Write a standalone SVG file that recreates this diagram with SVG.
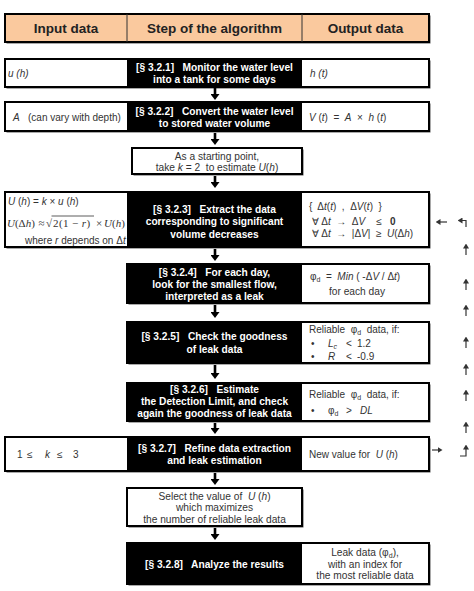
<svg xmlns="http://www.w3.org/2000/svg" width="474" height="591" viewBox="0 0 474 591">
<style>
text { white-space: pre; font-family: "Liberation Sans", Arial, sans-serif; }
.box { fill: #fff; stroke: #000; stroke-width: 2; }
.shd { fill: #555; }
.blk { fill: #000; }
.hdr { fill: #FAC99E; stroke: #000; stroke-width: 2; }
.hd { font-size: 13.5px; font-weight: bold; fill: #222; text-anchor: middle; }
.mt { font-size: 10.2px; font-weight: bold; fill: #fff; text-anchor: middle; }
.rt { font-size: 10px; fill: #333; }
.ct { font-size: 10.2px; fill: #333; text-anchor: middle; }
.it { font-style: italic; }
.mf { font-family: "Liberation Serif", "Times New Roman", serif; font-size: 11px; fill: #333; }
.main { stroke: #000; stroke-width: 2.6; fill: none; marker-end: url(#ad); }
.fb { stroke: #333; stroke-width: 1.2; fill: none; marker-end: url(#as); }
</style>
<defs>
<marker id="ad" viewBox="0 0 6 9" refX="1" refY="4.5" markerWidth="6" markerHeight="9" markerUnits="userSpaceOnUse" orient="auto"><path d="M0,0 L6,4.5 L0,9 Z" fill="#000"/></marker>
<marker id="as" viewBox="0 0 5 6" refX="0.5" refY="3" markerWidth="5" markerHeight="6" markerUnits="userSpaceOnUse" orient="auto"><path d="M0,0 L5,3 L0,6 Z" fill="#333"/></marker>
</defs>
<rect width="474" height="591" fill="#fff"/>

<g id="header">
<rect class="shd" x="6.5" y="15.5" width="424" height="28"/>
<rect class="hdr" x="5" y="14" width="424" height="28"/>
<line x1="127" y1="14" x2="127" y2="42" stroke="#333" stroke-width="1"/>
<line x1="302" y1="14" x2="302" y2="42" stroke="#333" stroke-width="1"/>
<text class="hd" x="66" y="33">Input data</text>
<text class="hd" x="214.5" y="33">Step of the algorithm</text>
<text class="hd" x="365.5" y="33">Output data</text>
</g>

<g id="step1">
<rect class="shd" x="6.5" y="60.5" width="424" height="28"/>
<rect class="box" x="5" y="59" width="424" height="28"/>
<rect class="blk" x="127" y="59" width="175" height="28"/>
<text class="rt it" x="8" y="76.5" font-size="9.5">u (h)</text>
<text class="mt" x="214.5" y="70.5">[§ 3.2.1]   Monitor the water level</text>
<text class="mt" x="214.5" y="82.5">into a tank for some days</text>
<text class="rt it" x="310" y="76.5" font-size="9.5">h (t)</text>
</g>

<g id="step2">
<rect class="shd" x="6.5" y="103.5" width="424" height="29"/>
<rect class="box" x="5" y="102" width="424" height="29"/>
<rect class="blk" x="127" y="102" width="175" height="29"/>
<text class="rt" x="13" y="121" font-size="9"><tspan class="it">A</tspan>   (can vary with depth)</text>
<text class="mt" x="214.5" y="114.5" font-size="10.5">[§ 3.2.2]   Convert the water level</text>
<text class="mt" x="214.5" y="127" font-size="10.5">to stored water volume</text>
<text class="rt" x="309" y="121"><tspan class="it">V</tspan> (<tspan class="it">t</tspan>)  =  <tspan class="it">A</tspan>  ×  <tspan class="it">h</tspan> (<tspan class="it">t</tspan>)</text>
</g>

<g id="start">
<rect class="shd" x="133.5" y="149.5" width="170" height="26"/>
<rect class="box" x="132" y="148" width="170" height="26"/>
<text class="ct" x="217" y="160">As a starting point,</text>
<text class="ct" x="217" y="171">take <tspan class="it">k</tspan> = 2  to estimate <tspan class="it">U</tspan>(<tspan class="it">h</tspan>)</text>
</g>

<g id="step3">
<rect class="shd" x="6.5" y="193.5" width="424" height="55"/>
<rect class="box" x="5" y="192" width="424" height="55"/>
<rect class="blk" x="127" y="192" width="175" height="55"/>
<text class="rt" x="8" y="205" font-size="9.5"><tspan class="it">U</tspan> (<tspan class="it">h</tspan>) = <tspan class="it">k</tspan> × <tspan class="it">u</tspan> (<tspan class="it">h</tspan>)</text>
<text class="mf" x="7" y="226.5"><tspan class="it">U</tspan>(Δ<tspan class="it">h</tspan>)</text>
<text class="mf" x="38.5" y="226.5">≈</text>
<text class="mf" x="46" y="226.5">√</text>
<line x1="51.5" y1="216" x2="94" y2="216" stroke="#333" stroke-width="0.8"/>
<text class="mf" x="53" y="226.5" letter-spacing="0.4">2(1 − <tspan class="it">r</tspan>)</text>
<text class="mf" x="96" y="226.5">×</text>
<text class="mf" x="104" y="226.5"><tspan class="it">U</tspan>(<tspan class="it">h</tspan>)</text>
<text class="rt" x="25" y="244" font-size="9">where <tspan class="it">r</tspan> depends on Δ<tspan class="it">t</tspan></text>
<text class="mt" x="214.5" y="212.5">[§ 3.2.3]   Extract the data</text>
<text class="mt" x="214.5" y="225">corresponding to significant</text>
<text class="mt" x="214.5" y="237.5">volume decreases</text>
<text class="rt" x="309" y="209.5">{  Δ<tspan class="it">t</tspan>(<tspan class="it">t</tspan>)  ,  Δ<tspan class="it">V</tspan>(<tspan class="it">t</tspan>)  }</text>
<text class="rt" x="312" y="225">∀ Δ<tspan class="it">t</tspan>  →  Δ<tspan class="it">V</tspan>    ≤   <tspan font-weight="bold">0</tspan></text>
<text class="rt" x="312" y="237">∀ Δ<tspan class="it">t</tspan>  →  |Δ<tspan class="it">V</tspan>|  ≥  <tspan class="it">U</tspan>(Δ<tspan class="it">h</tspan>)</text>
</g>

<g id="step4">
<rect class="shd" x="128.5" y="265.5" width="302" height="39"/>
<rect class="box" x="127" y="264" width="302" height="39"/>
<rect class="blk" x="127" y="264" width="175" height="39"/>
<text class="mt" x="214.5" y="275.5" font-size="10.6">[§ 3.2.4]   For each day,</text>
<text class="mt" x="214.5" y="287.5" font-size="11.2">look for the smallest flow,</text>
<text class="mt" x="214.5" y="299.5" font-size="11.2">interpreted as a leak</text>
<text class="rt" x="310" y="280">φ<tspan font-size="7" dy="2">d</tspan><tspan dy="-2">  =  </tspan><tspan class="it">Min</tspan> ( -Δ<tspan class="it">V</tspan> / Δ<tspan class="it">t</tspan>)</text>
<text class="ct" x="357" y="295" font-size="10">for each day</text>
</g>

<g id="step5">
<rect class="shd" x="128.5" y="323.5" width="302" height="41"/>
<rect class="box" x="127" y="322" width="302" height="41"/>
<rect class="blk" x="127" y="322" width="175" height="41"/>
<text class="mt" x="214.5" y="340">[§ 3.2.5]   Check the goodness</text>
<text class="mt" x="214.5" y="352.5">of leak data</text>
<text class="rt" x="309" y="333">Reliable  φ<tspan font-size="7" dy="2">d</tspan><tspan dy="-2">  data, if:</tspan></text>
<text class="rt" x="311" y="346.5">•</text>
<text class="rt it" x="328" y="346.5">L<tspan font-size="7" dy="2">c</tspan></text>
<text class="rt" x="346" y="346.5">&lt;</text>
<text class="rt" x="357" y="346.5">1.2</text>
<text class="rt" x="311" y="359.5">•</text>
<text class="rt it" x="328" y="359.5">R</text>
<text class="rt" x="346" y="359.5">&lt;</text>
<text class="rt" x="357" y="359.5">-0.9</text>
</g>

<g id="step6">
<rect class="shd" x="128.5" y="384.5" width="302" height="38"/>
<rect class="box" x="127" y="383" width="302" height="38"/>
<rect class="blk" x="127" y="383" width="175" height="38"/>
<text class="mt" x="214.5" y="393" font-size="10.7">[§ 3.2.6]   Estimate</text>
<text class="mt" x="214.5" y="405" font-size="10.7">the Detection Limit, and check</text>
<text class="mt" x="214.5" y="417" font-size="10.4">again the goodness of leak data</text>
<text class="rt" x="309" y="397.5">Reliable  φ<tspan font-size="7" dy="2">d</tspan><tspan dy="-2">  data, if:</tspan></text>
<text class="rt" x="311" y="413.5">•</text>
<text class="rt" x="328" y="413.5">φ<tspan font-size="7" dy="2">d</tspan></text>
<text class="rt" x="346" y="413.5">&gt;</text>
<text class="rt it" x="360" y="413.5">DL</text>
</g>

<g id="step7">
<rect class="shd" x="6.5" y="438.5" width="424" height="34"/>
<rect class="box" x="5" y="437" width="424" height="34"/>
<rect class="blk" x="127" y="437" width="175" height="34"/>
<text class="rt" x="17" y="457.5">1</text>
<text class="rt" x="27" y="457.5">≤</text>
<text class="rt it" x="45" y="457.5">k</text>
<text class="rt" x="57" y="457.5">≤</text>
<text class="rt" x="73" y="457.5">3</text>
<text class="mt" x="214.5" y="451.5">[§ 3.2.7]   Refine data extraction</text>
<text class="mt" x="214.5" y="464">and leak estimation</text>
<text class="rt" x="309" y="457.5">New value for  <tspan class="it">U</tspan> (<tspan class="it">h</tspan>)</text>
</g>

<g id="select">
<rect class="shd" x="128.5" y="489.5" width="175" height="38"/>
<rect class="box" x="127" y="488" width="175" height="38"/>
<text class="ct" x="214.5" y="499.5">Select the value of  <tspan class="it">U</tspan> (<tspan class="it">h</tspan>)</text>
<text class="ct" x="214.5" y="511">which maximizes</text>
<text class="ct" x="214.5" y="522.5">the number of reliable leak data</text>
</g>

<g id="step8">
<rect class="shd" x="128.5" y="544.5" width="302" height="41"/>
<rect class="box" x="127" y="543" width="302" height="41"/>
<rect class="blk" x="127" y="543" width="175" height="41"/>
<text class="mt" x="214.5" y="568">[§ 3.2.8]   Analyze the results</text>
<text class="ct" x="365" y="556" font-size="10">Leak data (φ<tspan font-size="7" dy="2">d</tspan><tspan dy="-2">),</tspan></text>
<text class="ct" x="365" y="567.5" font-size="10">with an index for</text>
<text class="ct" x="365" y="579" font-size="10">the most reliable data</text>
</g>

<g id="connectors">
<path class="main" d="M215 88 V95"/>
<path class="main" d="M215 133 V140"/>
<path class="main" d="M215 176 V183"/>
<path class="main" d="M215 249 V256"/>
<path class="main" d="M215 305 V313"/>
<path class="main" d="M215 365 V374"/>
<path class="main" d="M215 423 V429"/>
<path class="main" d="M215 473 V480"/>
<path class="main" d="M215 528 V535"/>
<path class="fb" d="M432 450 H438"/>
<path class="fb" d="M460 456 H466 V449"/>
<path class="fb" d="M466 433 V426"/>
<path class="fb" d="M466 401 V394"/>
<path class="fb" d="M466 375 V368"/>
<path class="fb" d="M466 348 V341"/>
<path class="fb" d="M466 316 V309"/>
<path class="fb" d="M466 290 V283"/>
<path class="fb" d="M466 255 V248"/>
<path class="fb" d="M466 227 V220.5 H462"/>
<path class="fb" d="M447 222 H440"/>
</g>
</svg>
